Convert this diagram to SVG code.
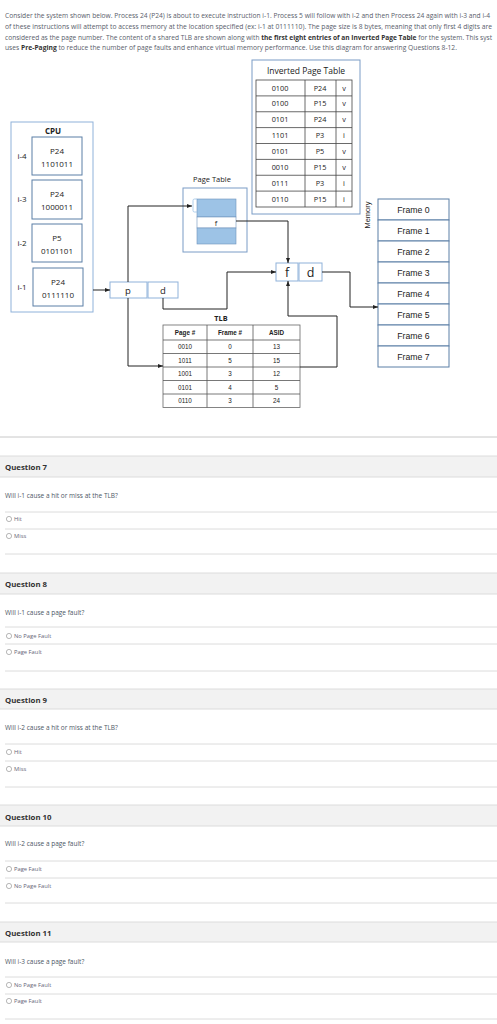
<svg xmlns="http://www.w3.org/2000/svg" width="497" height="1024" viewBox="0 0 497 1024">
<defs>
<marker id="ah" markerWidth="5" markerHeight="4" refX="5" refY="2" orient="auto" markerUnits="userSpaceOnUse"><path d="M0,0 L5,2 L0,4 z" fill="#222"/></marker>
<style>
.para{font-family:"Open Sans",sans-serif;font-size:6.8px;fill:#59606b}
.b{font-weight:bold;fill:#333}
.lbl{font-family:"Open Sans",sans-serif;font-size:8px;fill:#222;text-anchor:middle}
.cpuin{fill:#fff;stroke:#5b7fa6;stroke-width:1}
.lt{fill:#fff;stroke:#8fb2da;stroke-width:1}
.tbl{fill:#fff;stroke:#444;stroke-width:0.8}
.tt{font-family:"Open Sans",sans-serif;font-size:7.3px;fill:#222;text-anchor:middle}
.tlb{font-family:"Liberation Sans",sans-serif;font-size:6.3px;fill:#222;text-anchor:middle}
.tlbh{font-family:"Liberation Sans",sans-serif;font-size:6.3px;fill:#222;text-anchor:middle;font-weight:bold}
.fr{fill:#fff;stroke:#5b7fa6;stroke-width:1}
.frt{font-family:"Liberation Sans",sans-serif;font-size:8.7px;fill:#222;text-anchor:middle}
.conn{fill:none;stroke:#222;stroke-width:1;marker-end:url(#ah)}
.qh{fill:#f2f2f2}
.ln{stroke:#dcdcdc;stroke-width:1}
.qt{font-family:"Open Sans",sans-serif;font-size:7.8px;font-weight:bold;fill:#333}
.qq{font-family:"Open Sans",sans-serif;font-size:6.5px;fill:#4d5866}
.op{font-family:"Open Sans",sans-serif;font-size:5.8px;fill:#667}
.rad{fill:#fff;stroke:#888;stroke-width:0.6}
</style>
</defs>
<rect width="497" height="1024" fill="#fff"/>
<g id="intro">
<text class="para" x="5" y="17.5" textLength="485" lengthAdjust="spacingAndGlyphs">Consider the system shown below. Process 24 (P24) is about to execute instruction i-1. Process 5 will follow with i-2 and then Process 24 again with i-3 and i-4</text>
<text class="para" x="5" y="28.5" textLength="487" lengthAdjust="spacingAndGlyphs">of these instructions will attempt to access memory at the location specified (ex: i-1 at 0111110). The page size is 8 bytes, meaning that only first 4 digits are</text>
<text class="para" x="5" y="39.5" textLength="487" lengthAdjust="spacingAndGlyphs">considered as the page number. The content of a shared TLB are shown along with <tspan class="b">the first eight entries of an Inverted Page Table</tspan> for the system. This syst</text>
<text class="para" x="5" y="49.5" textLength="452" lengthAdjust="spacingAndGlyphs">uses <tspan class="b">Pre-Paging</tspan> to reduce the number of page faults and enhance virtual memory performance. Use this diagram for answering Questions 8-12.</text>
</g>
<g id="cpu">
<rect x="11" y="122" width="82" height="190" fill="#fff" stroke="#8fb2da"/>
<text class="lbl" x="53" y="134" style="font-weight:bold">CPU</text>
<rect class="cpuin" x="32" y="137" width="50" height="38"/>
<text class="lbl" x="22" y="159">i-4</text>
<text class="lbl" x="57" y="154">P24</text><text class="lbl" x="57" y="167">1101011</text>
<rect class="cpuin" x="32" y="180" width="50" height="39"/>
<text class="lbl" x="22" y="202">i-3</text>
<text class="lbl" x="57" y="197">P24</text><text class="lbl" x="57" y="210">1000011</text>
<rect class="cpuin" x="32" y="224" width="50" height="38"/>
<text class="lbl" x="22" y="246">i-2</text>
<text class="lbl" x="57" y="241">P5</text><text class="lbl" x="57" y="254">0101101</text>
<rect class="cpuin" x="33" y="268" width="50" height="38"/>
<text class="lbl" x="22" y="290">i-1</text>
<text class="lbl" x="58" y="285">P24</text><text class="lbl" x="58" y="298">0111110</text>
</g>
<g id="logical-address">
<rect class="lt" x="110" y="282" width="37" height="16"/>
<rect class="lt" x="148" y="282" width="30" height="16"/>
<text class="lbl" x="128" y="293.5" style="font-size:9.5px">p</text>
<text class="lbl" x="163" y="293.5" style="font-size:9.5px">d</text>
</g>
<g id="page-table">
<text class="lbl" x="212" y="182" style="font-size:7.5px">Page Table</text>
<rect x="183" y="188" width="64" height="64" fill="#fff" stroke="#7a9cc6"/>
<rect x="197" y="199" width="39" height="18" fill="#9dc3e6" stroke="#6f93bd" stroke-width="0.6"/>
<rect x="197" y="217" width="39" height="11" fill="#fff" stroke="#6f93bd" stroke-width="0.6"/>
<rect x="197" y="228" width="39" height="16" fill="#9dc3e6" stroke="#6f93bd" stroke-width="0.6"/>
<text class="lbl" x="216" y="225.5" style="font-size:7.5px">f</text>
<path d="M197,199 h-2.5 q-1.5,0 -1.5,1.5 v10 q0,1.5 1.5,1.5 h2.5" fill="none" stroke="#9dc3e6" stroke-width="0.8"/>
</g>
<g id="inverted-page-table">
<rect x="252" y="60" width="108" height="154" fill="#fff" stroke="#7a9cc6"/>
<text class="tt" x="306" y="74" style="font-size:8.5px">Inverted Page Table</text>
<rect class="tbl" x="256" y="80" width="96" height="127"/>
<path d="M305,80 V207 M336,80 V207 M256,95.9 H352 M256,111.75 H352 M256,127.6 H352 M256,143.5 H352 M256,159.4 H352 M256,175.25 H352 M256,191.1 H352" stroke="#444" stroke-width="0.8"/>
<text class="tt" x="280" y="90.5">0100</text><text class="tt" x="320" y="90.5">P24</text><text class="tt" x="344" y="90.5">v</text>
<text class="tt" x="280" y="106.3">0100</text><text class="tt" x="320" y="106.3">P15</text><text class="tt" x="344" y="106.3">v</text>
<text class="tt" x="280" y="122.2">0101</text><text class="tt" x="320" y="122.2">P24</text><text class="tt" x="344" y="122.2">v</text>
<text class="tt" x="280" y="138.1">1101</text><text class="tt" x="320" y="138.1">P3</text><text class="tt" x="344" y="138.1">i</text>
<text class="tt" x="280" y="153.9">0101</text><text class="tt" x="320" y="153.9">P5</text><text class="tt" x="344" y="153.9">v</text>
<text class="tt" x="280" y="169.8">0010</text><text class="tt" x="320" y="169.8">P15</text><text class="tt" x="344" y="169.8">v</text>
<text class="tt" x="280" y="185.7">0111</text><text class="tt" x="320" y="185.7">P3</text><text class="tt" x="344" y="185.7">i</text>
<text class="tt" x="280" y="201.5">0110</text><text class="tt" x="320" y="201.5">P15</text><text class="tt" x="344" y="201.5">i</text>
</g>
<g id="physical-address">
<rect class="lt" x="276" y="263" width="22" height="18"/>
<rect class="lt" x="299" y="263" width="23" height="18"/>
<text class="lbl" x="287" y="277" style="font-size:12.5px">f</text>
<text class="lbl" x="310.5" y="277" style="font-size:12.5px">d</text>
</g>
<g id="memory">
<text class="frt" transform="translate(370,215) rotate(-90)" style="font-size:7.5px">Memory</text>
<rect class="fr" x="378" y="199" width="71" height="21"/><text class="frt" x="413.5" y="213">Frame 0</text>
<rect class="fr" x="378" y="220" width="71" height="21"/><text class="frt" x="413.5" y="234">Frame 1</text>
<rect class="fr" x="378" y="241" width="71" height="21"/><text class="frt" x="413.5" y="255">Frame 2</text>
<rect class="fr" x="378" y="262" width="71" height="21"/><text class="frt" x="413.5" y="276">Frame 3</text>
<rect class="fr" x="378" y="283" width="71" height="21"/><text class="frt" x="413.5" y="297">Frame 4</text>
<rect class="fr" x="378" y="304" width="71" height="21"/><text class="frt" x="413.5" y="318">Frame 5</text>
<rect class="fr" x="378" y="325" width="71" height="21"/><text class="frt" x="413.5" y="339">Frame 6</text>
<rect class="fr" x="378" y="346" width="71" height="21"/><text class="frt" x="413.5" y="360">Frame 7</text>
</g>
<g id="tlb">
<text class="tt" x="221" y="320.5" style="font-weight:bold">TLB</text>
<rect x="163" y="325" width="137" height="82.5" fill="#fff" stroke="#666" stroke-width="0.8"/>
<path d="M207,325 V407.5 M253,325 V407.5 M163,340 H300 M163,353.5 H300 M163,367 H300 M163,380.5 H300 M163,394 H300" stroke="#555" stroke-width="0.8"/>
<text class="tlbh" x="185" y="334.5">Page #</text><text class="tlbh" x="230" y="334.5">Frame #</text><text class="tlbh" x="276.5" y="334.5">ASID</text>
<text class="tlb" x="185" y="349">0010</text><text class="tlb" x="230" y="349">0</text><text class="tlb" x="276.5" y="349">13</text>
<text class="tlb" x="185" y="362.5">1011</text><text class="tlb" x="230" y="362.5">5</text><text class="tlb" x="276.5" y="362.5">15</text>
<text class="tlb" x="185" y="376">1001</text><text class="tlb" x="230" y="376">3</text><text class="tlb" x="276.5" y="376">12</text>
<text class="tlb" x="185" y="389.5">0101</text><text class="tlb" x="230" y="389.5">4</text><text class="tlb" x="276.5" y="389.5">5</text>
<text class="tlb" x="185" y="403">0110</text><text class="tlb" x="230" y="403">3</text><text class="tlb" x="276.5" y="403">24</text>
</g>
<g id="connectors">
<path class="conn" d="M93,290 H110"/>
<path class="conn" d="M128,282 V206 H192"/>
<path class="conn" d="M128,298 V366 H163"/>
<path class="conn" d="M163,298 V309 H227 V272 H276"/>
<path class="conn" d="M236,221 H288 V263"/>
<path class="conn" d="M300,367 H337 V316 H288 V281"/>
<path class="conn" d="M322,272 H350 V307 H378"/>
</g>
<line x1="0" y1="437" x2="497" y2="437" stroke="#c8c8c8"/>
<g id="q7">
<rect class="qh" x="0" y="456" width="497" height="21"/>
<line class="ln" x1="0" y1="456" x2="497" y2="456"/><line class="ln" x1="0" y1="477" x2="497" y2="477"/>
<text class="qt" x="5" y="470">Question 7</text>
<text class="qq" x="5" y="498">Will i-1 cause a hit or miss at the TLB?</text>
<line class="ln" x1="5" y1="512" x2="497" y2="512"/>
<circle class="rad" cx="9" cy="519" r="2.6"/><text class="op" x="14" y="521">Hit</text>
<line class="ln" x1="5" y1="529" x2="497" y2="529"/>
<circle class="rad" cx="9" cy="536" r="2.6"/><text class="op" x="14" y="538">Miss</text>
<line class="ln" x1="5" y1="554" x2="497" y2="554"/>
</g>
<g id="q8">
<rect class="qh" x="0" y="573" width="497" height="21"/>
<line class="ln" x1="0" y1="573" x2="497" y2="573"/><line class="ln" x1="0" y1="594" x2="497" y2="594"/>
<text class="qt" x="5" y="587">Question 8</text>
<text class="qq" x="5" y="615">Will i-1 cause a page fault?</text>
<line class="ln" x1="5" y1="627" x2="497" y2="627"/>
<circle class="rad" cx="9" cy="636" r="2.6"/><text class="op" x="14" y="638">No Page Fault</text>
<line class="ln" x1="5" y1="644" x2="497" y2="644"/>
<circle class="rad" cx="9" cy="652" r="2.6"/><text class="op" x="14" y="654">Page Fault</text>
<line class="ln" x1="5" y1="671" x2="497" y2="671"/>
</g>
<g id="q9">
<rect class="qh" x="0" y="689" width="497" height="20"/>
<line class="ln" x1="0" y1="689" x2="497" y2="689"/><line class="ln" x1="0" y1="709" x2="497" y2="709"/>
<text class="qt" x="5" y="703">Question 9</text>
<text class="qq" x="5" y="730">Will i-2 cause a hit or miss at the TLB?</text>
<line class="ln" x1="5" y1="744" x2="497" y2="744"/>
<circle class="rad" cx="9" cy="752" r="2.6"/><text class="op" x="14" y="754">Hit</text>
<line class="ln" x1="5" y1="761" x2="497" y2="761"/>
<circle class="rad" cx="9" cy="769" r="2.6"/><text class="op" x="14" y="771">Miss</text>
<line class="ln" x1="5" y1="787" x2="497" y2="787"/>
</g>
<g id="q10">
<rect class="qh" x="0" y="805" width="497" height="21"/>
<line class="ln" x1="0" y1="805" x2="497" y2="805"/><line class="ln" x1="0" y1="826" x2="497" y2="826"/>
<text class="qt" x="5" y="820">Question 10</text>
<text class="qq" x="5" y="846">Will i-2 cause a page fault?</text>
<line class="ln" x1="5" y1="861" x2="497" y2="861"/>
<circle class="rad" cx="9" cy="869" r="2.6"/><text class="op" x="14" y="871">Page Fault</text>
<line class="ln" x1="5" y1="878" x2="497" y2="878"/>
<circle class="rad" cx="9" cy="886" r="2.6"/><text class="op" x="14" y="888">No Page Fault</text>
<line class="ln" x1="5" y1="903" x2="497" y2="903"/>
</g>
<g id="q11">
<rect class="qh" x="0" y="922" width="497" height="20"/>
<line class="ln" x1="0" y1="922" x2="497" y2="922"/><line class="ln" x1="0" y1="942" x2="497" y2="942"/>
<text class="qt" x="5" y="936">Question 11</text>
<text class="qq" x="5" y="964">Will i-3 cause a page fault?</text>
<line class="ln" x1="5" y1="977" x2="497" y2="977"/>
<circle class="rad" cx="9" cy="985" r="2.6"/><text class="op" x="14" y="987">No Page Fault</text>
<line class="ln" x1="5" y1="994" x2="497" y2="994"/>
<circle class="rad" cx="9" cy="1001" r="2.6"/><text class="op" x="14" y="1003">Page Fault</text>
<line class="ln" x1="5" y1="1019" x2="497" y2="1019"/>
</g>
</svg>
